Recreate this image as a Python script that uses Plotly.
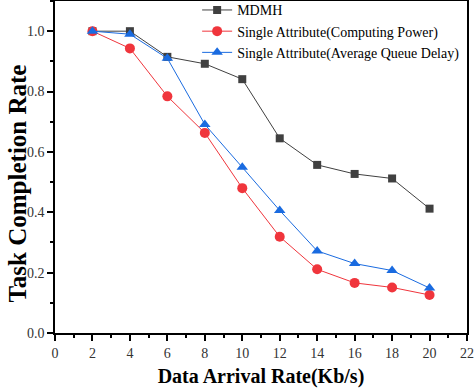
import plotly.graph_objects as go

x_rate = [2, 4, 6, 8, 10, 12, 14, 16, 18, 20]
mdmh = [1.0, 1.0, 0.915, 0.892, 0.841, 0.645, 0.557, 0.527, 0.512, 0.412]
single_cp = [1.0, 0.943, 0.784, 0.663, 0.48, 0.319, 0.211, 0.166, 0.151, 0.126]
single_aqd = [1.0, 0.99, 0.91, 0.691, 0.549, 0.406, 0.272, 0.23, 0.207, 0.149]

font_family = "Liberation Serif"

fig = go.Figure()
fig.add_trace(go.Scatter(x=x_rate, y=mdmh, name="MDMH", mode="lines+markers",
                         line=dict(color="#404040", width=1),
                         marker=dict(symbol="square", size=8, color="#404040")))
fig.add_trace(go.Scatter(x=x_rate, y=single_cp, name="Single Attribute(Computing Power)",
                         mode="lines+markers",
                         line=dict(color="#f0353c", width=1),
                         marker=dict(symbol="circle", size=10, color="#f0353c")))
fig.add_trace(go.Scatter(x=x_rate, y=single_aqd, name="Single Attribute(Average Queue Delay)",
                         mode="lines+markers",
                         line=dict(color="#1a6be0", width=1),
                         marker=dict(symbol="triangle-up", size=10, color="#1a6be0")))

fig.update_layout(
    width=474, height=388,
    margin=dict(l=55, r=7, t=1, b=55, autoexpand=False),
    paper_bgcolor="white", plot_bgcolor="white",
    font=dict(family=font_family, color="black"),
    showlegend=True,
    legend=dict(x=0.345, y=1.02, xanchor="left", yanchor="top",
                bgcolor="rgba(0,0,0,0)", font=dict(size=14, family=font_family),
                itemwidth=30, tracegroupgap=0),
    annotations=[dict(text="<b>Task Completion Rate</b>", textangle=-90,
                      xref="paper", yref="paper", x=-0.09, y=0.45,
                      xanchor="center", yanchor="middle", showarrow=False,
                      font=dict(size=25, family=font_family, color="black"))],
)
fig.update_xaxes(range=[0, 22], tickmode="linear", tick0=0, dtick=2, automargin=False,
                 ticks="outside", ticklen=6, tickwidth=1.5, tickcolor="black",
                 minor=dict(ticks="outside", dtick=1, ticklen=3, tickcolor="black", tickwidth=1.5),
                 showline=True, linecolor="black", linewidth=1.5, mirror=True,
                 showgrid=False, zeroline=False,
                 tickfont=dict(size=14, color="#333333", family=font_family),
                 title=dict(text="<b>Data Arrival Rate(Kb/s)</b>",
                            font=dict(size=20, family=font_family), standoff=11))
fig.update_yaxes(range=[0, 1.1], tickmode="linear", tick0=0, dtick=0.2, tickformat=".1f",
                 automargin=False,
                 ticks="outside", ticklen=6, tickwidth=1.5, tickcolor="black",
                 minor=dict(ticks="outside", dtick=0.1, ticklen=3, tickcolor="black", tickwidth=1.5),
                 showline=True, linecolor="black", linewidth=1.5, mirror=True,
                 showgrid=False, zeroline=False,
                 tickfont=dict(size=14, color="#333333", family=font_family))

fig.write_html("out.html", config={"displayModeBar": False},
               post_script="document.body.style.margin='0';")
